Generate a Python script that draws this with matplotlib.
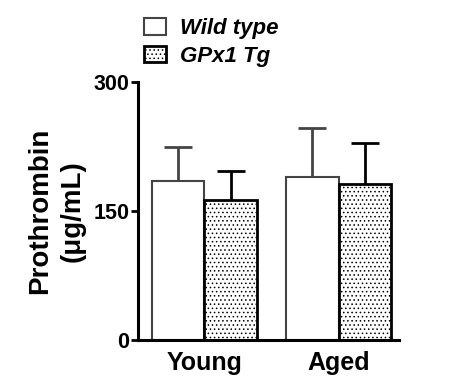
import numpy as np
import matplotlib
matplotlib.use('Agg')
import matplotlib.pyplot as plt

plt.rcParams['font.family'] = ['Liberation Sans', 'DejaVu Sans']
plt.rcParams['font.weight'] = 'bold'
plt.rcParams['axes.labelweight'] = 'bold'
plt.rcParams['hatch.linewidth'] = 0.6

groups = ['Young', 'Aged']
wt_mean = [185, 189]
wt_err = [39, 57]
tg_mean = [163, 181]
tg_err = [33, 48]

x = np.arange(len(groups))
w = 0.392

fig = plt.figure(figsize=(4.74, 3.87), dpi=100)
ax = fig.add_axes([0.291, 0.1214, 0.551, 0.6667])

b1 = ax.bar(x - w / 2, wt_mean, w, yerr=[np.zeros(2), wt_err], color='white',
            edgecolor='#444444', linewidth=1.5, label='Wild type',
            error_kw=dict(ecolor='#444444', elinewidth=2, capsize=10, capthick=2))
b2 = ax.bar(x + w / 2, tg_mean, w, yerr=[np.zeros(2), tg_err], color='white',
            edgecolor='black', linewidth=2, hatch='....', label='GPx1 Tg',
            error_kw=dict(ecolor='black', elinewidth=2, capsize=10, capthick=2))

# only the upper half of the error bar is shown: hide the caps sitting on the bars
for bc, means in [(b1, wt_mean), (b2, tg_mean)]:
    for cap in bc.errorbar.lines[1]:
        if np.allclose(cap.get_ydata(), means):
            cap.set_visible(False)

ax.set_xlim(-0.496, 1.451)
ax.set_ylim(0, 300)
ax.set_yticks([0, 150, 300])
ax.set_xticks(x)
ax.set_xticklabels(groups, fontsize=18)
ax.tick_params(axis='y', labelsize=15.5, width=2, length=5, pad=1)
ax.tick_params(axis='x', length=0, pad=8)
for s in ['top', 'right']:
    ax.spines[s].set_visible(False)
for s in ['left', 'bottom']:
    ax.spines[s].set_linewidth(2.2)

ax.set_ylabel('Prothrombin\n(\u03bcg/mL)', fontsize=20, linespacing=1.3, labelpad=6)

leg = fig.legend(loc='upper left', bbox_to_anchor=(144 / 474, 1 - 18 / 387),
                 frameon=False, borderpad=0, borderaxespad=0,
                 handlelength=1.0, handleheight=0.77,
                 handletextpad=0.63, labelspacing=0.3,
                 prop=dict(size=16, weight='bold', style='italic'))

fig.savefig('out.png', dpi=100)
